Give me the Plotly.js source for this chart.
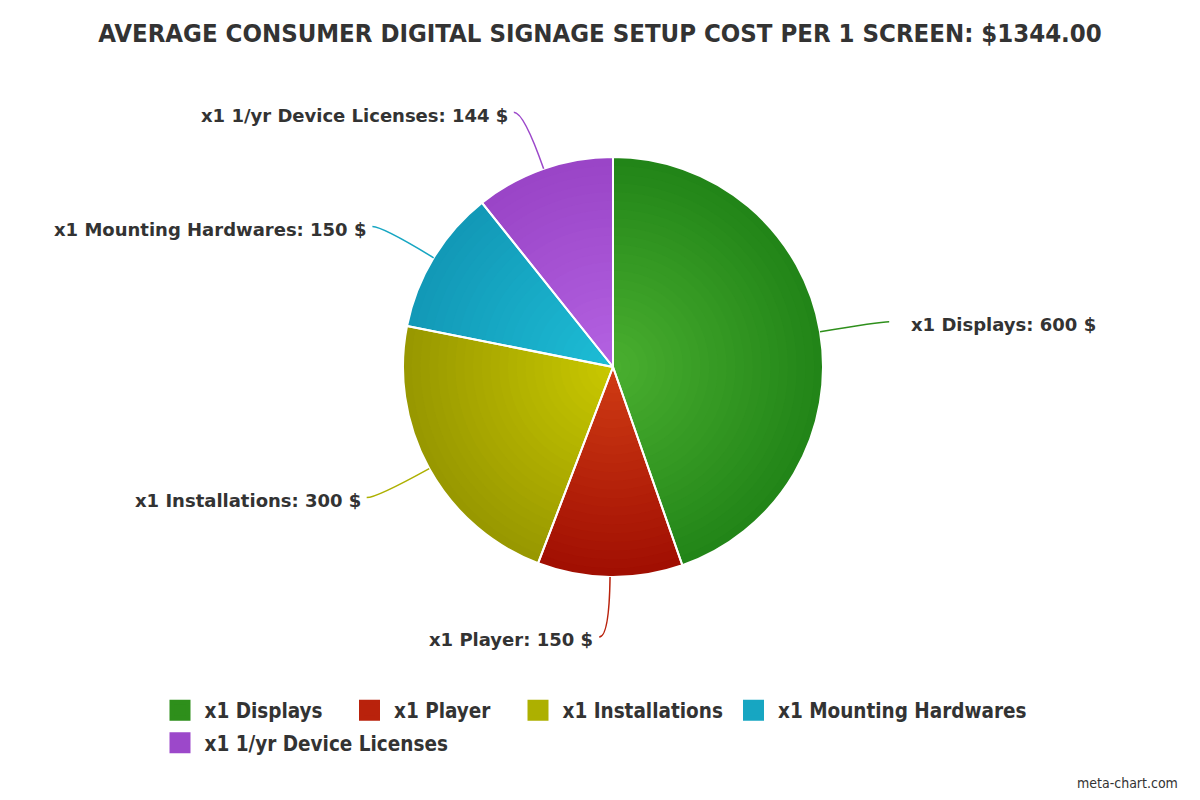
<!DOCTYPE html>
<html>
<head>
<meta charset="utf-8">
<script src="https://cdn.plot.ly/plotly-3.0.1.min.js"></script>
<style>
  body { margin: 0; background: #fff; }
  #plot { width: 1200px; height: 800px; }
</style>
</head>
<body>
<div id="plot"></div>
<script>
var labels = ["x1 Displays", "x1 Player", "x1 Installations", "x1 Mounting Hardwares", "x1 1/yr Device Licenses"]
var values = [600, 150, 300, 150, 144]
var colors = ["#2e8f1b", "#b9220c", "#adb000", "#17a6c2", "#9c48ca"]
var centerColors = ["#4aaf2f", "#d03c14", "#c9c800", "#1dbdd6", "#b462e2"]
var rimColors = ["#218417", "#a00e02", "#979700", "#1298b6", "#9944c6"]
var titleText = "AVERAGE CONSUMER DIGITAL SIGNAGE SETUP COST PER 1 SCREEN: $1344.00"

// pie centre (613,367), radius 210 in the 1200x800 picture
var W = 1200, H = 800
var cx = 613, cy = 367, r = 210
var legendFont = {family: "DejaVu Sans Condensed, sans-serif", size: 20.5, color: "#333333", weight: "bold"}
// legend swatch centre and row centre for each entry
var legendX = [180, 369.5, 538, 753.5, 180]
var legendY = [710.5, 710.5, 710.5, 710.5, 743]

function px(x){ return x / W }
function py(y){ return 1 - y / H }

function hexToRgb(h){
    return [parseInt(h.substr(1, 2), 16), parseInt(h.substr(3, 2), 16), parseInt(h.substr(5, 2), 16)]
}
function mix(a, b, f){
    let ca = hexToRgb(a), cb = hexToRgb(b)
    let out = []
    for (let k = 0; k < 3; k++){
        out.push(Math.round(ca[k] + (cb[k] - ca[k]) * f))
    }
    return "rgb(" + out.join(",") + ")"
}
function pieDomain(rad){
    return {
        x: [px(cx - rad), px(cx + rad)],
        y: [py(cy + rad), py(cy - rad)]
    }
}

var total = 0
for (var i = 0; i < values.length; i++){
    total += values[i]
}

// outside labels with curved connectors, placed at each slice's middle angle
var annotations = []
var shapes = []
var cum = 0
for (var i = 0; i < values.length; i++){
    let mid = (cum + values[i] / 2) / total * 2 * Math.PI
    cum += values[i]
    let sx = Math.sin(mid), sy = -Math.cos(mid)
    let right = sx >= 0
    let s = [cx + r * sx, cy + r * sy]
    let c = [cx + (r + 60) * sx, cy + (r + 60) * sy]
    let e = [c[0] + (right ? 10 : -10), c[1]]
    shapes.push({
        type: "path",
        xref: "paper", yref: "paper",
        path: "M" + px(s[0]) + "," + py(s[1]) + " Q" + px(c[0]) + "," + py(c[1]) + " " + px(e[0]) + "," + py(e[1]),
        line: {color: colors[i], width: 1.5}
    })
    annotations.push({
        text: "<b>" + labels[i] + ": " + values[i] + " $</b>",
        xref: "paper", yref: "paper",
        x: px(e[0]), y: py(e[1]),
        xanchor: right ? "left" : "right",
        yanchor: "middle",
        xshift: right ? 20 : -4,
        yshift: -3,
        showarrow: false,
        font: {family: "DejaVu Sans, sans-serif", size: 18, color: "#333333"}
    })
}

annotations.push({
    text: "meta-chart.com",
    xref: "paper", yref: "paper",
    x: px(1180), y: py(783),
    xanchor: "right", yanchor: "middle",
    showarrow: false,
    font: {family: "DejaVu Sans Condensed, sans-serif", size: 14, color: "#333333"}
})

// shaded pie: stacked rings, darker at the rim and lighter toward the centre
var data = []
var rings = 24
for (var k = 0; k < rings; k++){
    let rad = r * (rings - k) / rings
    let f = (rad - r / (2 * rings)) / r
    let ringColors = []
    for (var i = 0; i < values.length; i++){
        ringColors.push(mix(centerColors[i], rimColors[i], f))
    }
    data.push({
        type: "pie",
        labels: labels,
        values: values,
        textinfo: "none",
        hoverinfo: "skip",
        sort: false,
        direction: "clockwise",
        rotation: 0,
        automargin: false,
        showlegend: false,
        domain: pieDomain(rad),
        marker: {colors: ringColors, line: {width: 0}}
    })
}

// white slice borders on top
var clear = []
for (var i = 0; i < values.length; i++){
    clear.push("rgba(0,0,0,0)")
}
data.push({
    type: "pie",
    labels: labels,
    values: values,
    textinfo: "none",
    hoverinfo: "label+value",
    sort: false,
    direction: "clockwise",
    rotation: 0,
    automargin: false,
    showlegend: false,
    domain: pieDomain(r),
    marker: {colors: clear, line: {color: "#ffffff", width: 2}}
})

var layout = {
    width: W,
    height: H,
    margin: {l: 0, r: 0, t: 0, b: 0},
    paper_bgcolor: "#ffffff",
    plot_bgcolor: "#ffffff",
    xaxis: {visible: false},
    yaxis: {visible: false},
    title: {
        text: "<b>" + titleText + "</b>",
        font: {family: "DejaVu Sans Condensed, sans-serif", size: 25.5, color: "#333333"},
        x: 0.5,
        xanchor: "center",
        y: py(33),
        yanchor: "middle",
        yref: "container"
    },
    showlegend: true,
    shapes: shapes,
    annotations: annotations
}

// one legend per entry so each sits where the reference puts it
var itemW = 39
for (var i = 0; i < labels.length; i++){
    let lname = i == 0 ? "legend" : "legend" + (i + 1)
    data.push({
        type: "scatter",
        mode: "markers",
        x: [null],
        y: [null],
        name: labels[i],
        legend: lname,
        hoverinfo: "skip",
        marker: {symbol: "square", size: 16, color: colors[i], line: {color: colors[i], width: 5}}
    })
    layout[lname] = {
        orientation: "h",
        x: px(legendX[i] - itemW / 2 - 5),
        xanchor: "left",
        y: py(legendY[i] - 20),
        yanchor: "top",
        itemsizing: "trace",
        itemwidth: itemW,
        font: legendFont
    }
}

Plotly.newPlot("plot", data, layout, {displayModeBar: false})
</script>
</body>
</html>
